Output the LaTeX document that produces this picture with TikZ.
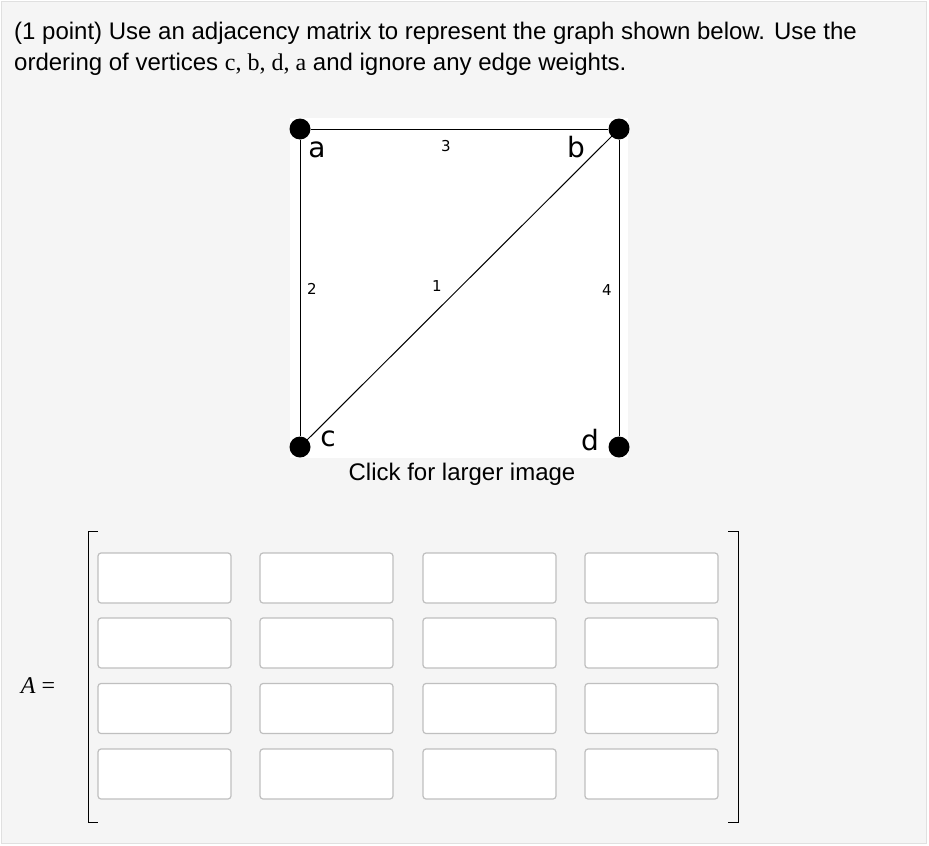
\documentclass[tikz,border=0pt]{standalone}
\usepackage{fontspec}
\setmainfont{Liberation Sans}
\newfontfamily\dvs{DejaVu Sans}
\newfontfamily\serifF{Liberation Serif}
\begin{document}
\begin{tikzpicture}[x=1pt,y=-1pt,
  vert/.style={circle,fill=black,inner sep=0,minimum size=21pt},
  vlab/.style={font=\dvs\fontsize{28}{28}\selectfont,inner sep=0},
  wlab/.style={font=\dvs\fontsize{15}{15}\selectfont,inner sep=0},
  cell/.style={draw=black!25,fill=white,rounded corners=3pt,line width=1.2pt,minimum width=133pt,minimum height=50pt,inner sep=0}]
\useasboundingbox (0,0) rectangle (929,846);
\fill[black!4] (1,1) rectangle (926,843);
\draw[black!12] (1,1) rectangle (926,843);
\node[anchor=west,font=\fontsize{24}{24}\selectfont,inner sep=0] (t1) at (14,33) {(1 point) Use an adjacency matrix to represent the graph shown below. Use the};
\node[anchor=west,font=\fontsize{24}{24}\selectfont,inner sep=0] (t2) at (14,64) {ordering of vertices {\serifF c, b, d, a} and ignore any edge weights.};
\fill[white] (290,118) rectangle (628,458);
\node[vert] (a) at (300,129) {};
\node[vert] (b) at (619,129) {};
\node[vert] (c) at (300,447) {};
\node[vert] (d) at (619,447) {};
\draw[line width=0.8pt] (a) -- (b);
\draw[line width=0.8pt] (a) -- (c);
\draw[line width=0.8pt] (b) -- (d);
\draw[line width=1pt] (c.center) -- (b.center);
\node[vlab] (la) at (317,150) {a};
\node[vlab] (lb) at (576,147) {b};
\node[vlab] (lc) at (328,439) {c};
\node[vlab] (ld) at (590,440) {d};
\node[wlab] (w3) at (446,146) {3};
\node[wlab] (w2) at (312,289) {2};
\node[wlab] (w1) at (437,286) {1};
\node[wlab] (w4) at (607,290) {4};
\node[font=\fontsize{24}{24}\selectfont,inner sep=0] (cap) at (462,474) {Click for larger image};
\foreach \c/\x in {1/164.5,2/326.5,3/489.5,4/651.5}
  \foreach \r/\y in {1/578,2/643,3/708.5,4/774}
    \node[cell] (m\r\c) at (\x,\y) {};
\draw[line width=1pt] (98,531) -- (88,531) -- (88,822) -- (98,822);
\draw[line width=1pt] (728,531) -- (738,531) -- (738,822) -- (728,822);
\node[font=\serifF\fontsize{24}{24}\selectfont,inner sep=0] (A) at (38,686) {\textit{A} =};
\end{tikzpicture}
\end{document}
